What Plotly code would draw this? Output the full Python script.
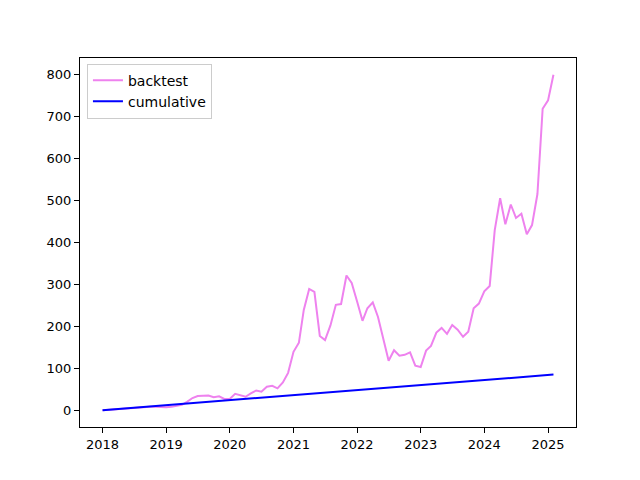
import pandas as pd
import plotly.graph_objects as go

start_month = "2018-01-01"
n_months = 86

backtest = [1, 2, 3, 4, 5, 6, 7, 8, 8, 9,
            9, 8, 8, 9, 11, 14, 21, 30, 35, 36,
            36, 32, 34, 28, 28, 40, 37, 33, 41, 48,
            45, 57, 59, 53, 67, 90, 140, 162, 240, 290,
            283, 178, 168, 203, 252, 254, 322, 304, 260, 214,
            244, 258, 223, 171, 119, 144, 131, 133, 139, 107,
            104, 143, 154, 186, 197, 183, 204, 193, 176, 188,
            244, 255, 284, 297, 430, 506, 444, 491, 459, 469,
            420, 442, 516, 719, 739, 800]
cumulative = list(range(1, n_months + 1))

year_ticks = ["2018", "2019", "2020", "2021", "2022", "2023", "2024", "2025"]
y_ticks = [0, 100, 200, 300, 400, 500, 600, 700, 800]

dates = pd.date_range(start_month, periods=n_months, freq="MS")

fig = go.Figure()
fig.add_trace(go.Scatter(x=dates, y=backtest, mode="lines", name="backtest",
                         line=dict(color="violet", width=2)))
fig.add_trace(go.Scatter(x=dates, y=cumulative, mode="lines", name="cumulative",
                         line=dict(color="blue", width=2)))

span = dates[-1] - dates[0]
xr = [dates[0] - span * 0.05, dates[-1] + span * 0.05]
ymin, ymax = min(min(backtest), min(cumulative)), max(max(backtest), max(cumulative))
yr = [ymin - 0.05 * (ymax - ymin), ymax + 0.05 * (ymax - ymin)]

axis_common = dict(showgrid=False, zeroline=False, showline=True, linecolor="black",
                   linewidth=1, mirror=True, ticks="outside", ticklen=5,
                   tickcolor="black", tickwidth=1,
                   tickfont=dict(family="DejaVu Sans", size=13, color="black"))

fig.update_layout(
    width=640, height=480,
    margin=dict(l=72, r=72, t=50, b=61),
    paper_bgcolor="white", plot_bgcolor="white",
    xaxis=dict(range=xr, tickvals=[pd.Timestamp(f"{y}-01-01") for y in year_ticks],
               ticktext=year_ticks, **axis_common),
    yaxis=dict(range=yr, tickvals=y_ticks, **axis_common),
    legend=dict(x=0.014, y=0.985, xanchor="left", yanchor="top",
                bgcolor="rgba(255,255,255,0.8)", bordercolor="#cccccc", borderwidth=1,
                font=dict(family="DejaVu Sans", size=14, color="black"),
                tracegroupgap=2),
    showlegend=True,
)

fig.write_html("out.html")
